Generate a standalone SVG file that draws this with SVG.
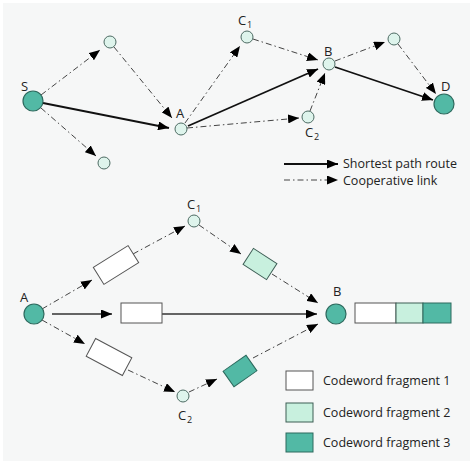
<svg xmlns="http://www.w3.org/2000/svg" width="474" height="465" viewBox="0 0 474 465">
<defs>
<marker id="ah" markerUnits="userSpaceOnUse" markerWidth="11" markerHeight="9" refX="11" refY="4.5" orient="auto">
<path d="M0,0 L11,4.5 L0,9 z" fill="#000"/>
</marker>
<style>
.bg{fill:#f6f7f7}
.big{fill:#52b9a5;stroke:#2d6a5e;stroke-width:1.2}
.small{fill:#def4ec;stroke:#4d6b63;stroke-width:1}
.solid{stroke:#111;stroke-width:1.8;fill:none}
.plain{stroke:#333;stroke-width:1.6;fill:none}
.coop{stroke:#444;stroke-width:1;fill:none;stroke-dasharray:6 3 1.5 3}
.f1{fill:#ffffff;stroke:#555;stroke-width:1}
.f2{fill:#c8f0de;stroke:#3d5e55;stroke-width:1}
.f3{fill:#52b9a5;stroke:#2d6a5e;stroke-width:1}
text{font-family:"Open Sans","Noto Sans","Liberation Sans",sans-serif;fill:#222}
.lbl{font-size:13px}
.sub{font-size:9px}
.leg{font-size:12.5px}
.leg2{font-size:12.5px}
</style>
</defs>
<rect class="bg" x="3" y="3" width="467" height="458"/>

<g id="connectors">
<line class="coop" x1="41" y1="95" x2="100" y2="50" marker-end="url(#ah)"/>
<line class="coop" x1="114" y1="47" x2="172" y2="118" marker-end="url(#ah)"/>
<line class="coop" x1="41" y1="108" x2="96" y2="156" marker-end="url(#ah)"/>
<line class="solid" x1="43" y1="103" x2="169" y2="128" marker-end="url(#ah)"/>
<line class="coop" x1="185" y1="123" x2="240" y2="46" marker-end="url(#ah)"/>
<line class="coop" x1="253" y1="39" x2="318" y2="60" marker-end="url(#ah)"/>
<line class="solid" x1="188" y1="126" x2="318" y2="69" marker-end="url(#ah)"/>
<line class="coop" x1="187" y1="128" x2="299" y2="118" marker-end="url(#ah)"/>
<line class="coop" x1="310" y1="111" x2="325" y2="73" marker-end="url(#ah)"/>
<line class="coop" x1="335" y1="61" x2="385" y2="42" marker-end="url(#ah)"/>
<line class="coop" x1="398" y1="44" x2="436" y2="94" marker-end="url(#ah)"/>
<line class="solid" x1="335" y1="67" x2="433" y2="100" marker-end="url(#ah)"/>
<line class="solid" x1="284" y1="164" x2="338" y2="164" marker-end="url(#ah)"/>
<line class="coop" x1="284" y1="180" x2="338" y2="180" marker-end="url(#ah)"/>
<line class="coop" x1="42" y1="309" x2="92" y2="280" marker-end="url(#ah)"/>
<line class="coop" x1="133" y1="254" x2="185" y2="226" marker-end="url(#ah)"/>
<line class="coop" x1="199" y1="225" x2="241" y2="254" marker-end="url(#ah)"/>
<line class="coop" x1="272" y1="274" x2="318" y2="303" marker-end="url(#ah)"/>
<line class="plain" x1="52" y1="314" x2="112" y2="314" marker-end="url(#ah)"/>
<line class="plain" x1="162" y1="314" x2="317" y2="314" marker-end="url(#ah)"/>
<line class="coop" x1="42" y1="320" x2="85" y2="344" marker-end="url(#ah)"/>
<line class="coop" x1="128" y1="370" x2="175" y2="392" marker-end="url(#ah)"/>
<line class="coop" x1="189" y1="392" x2="217" y2="379" marker-end="url(#ah)"/>
<line class="coop" x1="253" y1="358" x2="318" y2="324" marker-end="url(#ah)"/>
</g>

<g id="top-S"><circle class="big" cx="33" cy="101" r="10"/><text class="lbl" x="21" y="91">S</text></g>
<g id="top-n1"><circle class="small" cx="110" cy="42" r="6"/></g>
<g id="top-n2"><circle class="small" cx="104" cy="163" r="6"/></g>
<g id="top-A"><circle class="small" cx="181" cy="129" r="6"/><text class="lbl" x="176" y="118">A</text></g>
<g id="top-C1"><circle class="small" cx="247" cy="37" r="6"/><text class="lbl" x="238" y="25">C</text><text class="sub" x="247" y="28">1</text></g>
<g id="top-C2"><circle class="small" cx="308" cy="117" r="6"/><text class="lbl" x="305" y="137">C</text><text class="sub" x="314" y="140">2</text></g>
<g id="top-B"><circle class="small" cx="329" cy="64" r="6"/><text class="lbl" x="324" y="56">B</text></g>
<g id="top-n3"><circle class="small" cx="394" cy="39" r="6"/></g>
<g id="top-D"><circle class="big" cx="444" cy="104" r="10"/><text class="lbl" x="441" y="91">D</text></g>

<g id="legend-top">
<text class="leg" x="343" y="168">Shortest path route</text>
<text class="leg" x="343" y="185">Cooperative link</text>
</g>

<g id="bot-A"><circle class="big" cx="34" cy="314" r="10"/><text class="lbl" x="20" y="302">A</text></g>
<g id="bot-C1"><circle class="small" cx="194" cy="221" r="6"/><text class="lbl" x="187" y="209">C</text><text class="sub" x="196" y="212">1</text></g>
<g id="bot-C2"><circle class="small" cx="183" cy="396" r="6"/><text class="lbl" x="178" y="420">C</text><text class="sub" x="187" y="423">2</text></g>
<g id="bot-B"><circle class="big" cx="336" cy="314" r="10"/><text class="lbl" x="333" y="296">B</text></g>

<g id="frag-mid"><rect class="f1" x="121" y="303" width="41" height="20"/></g>
<g id="frag-up1"><rect class="f1" x="-20.5" y="-10" width="41" height="20" transform="translate(116,265) rotate(-32)"/></g>
<g id="frag-low1"><rect class="f1" x="-20.5" y="-10" width="41" height="20" transform="translate(109,357) rotate(28)"/></g>
<g id="frag-up2"><rect class="f2" x="-14" y="-9.5" width="28" height="19" transform="translate(260,264) rotate(33)"/></g>
<g id="frag-low2"><rect class="f3" x="-14" y="-9.5" width="28" height="19" transform="translate(240,371) rotate(-35)"/></g>

<g id="codeword-B">
<rect class="f1" x="355" y="303" width="41" height="20"/>
<rect class="f2" x="396" y="303" width="27" height="20"/>
<rect class="f3" x="423" y="303" width="28" height="20"/>
</g>

<g id="legend-bottom">
<rect class="f1" x="286" y="371" width="27" height="19"/>
<text class="leg2" x="323" y="385">Codeword fragment 1</text>
<rect class="f2" x="286" y="403" width="27" height="19"/>
<text class="leg2" x="323" y="417">Codeword fragment 2</text>
<rect class="f3" x="286" y="433" width="27" height="19"/>
<text class="leg2" x="323" y="447">Codeword fragment 3</text>
</g>
</svg>
